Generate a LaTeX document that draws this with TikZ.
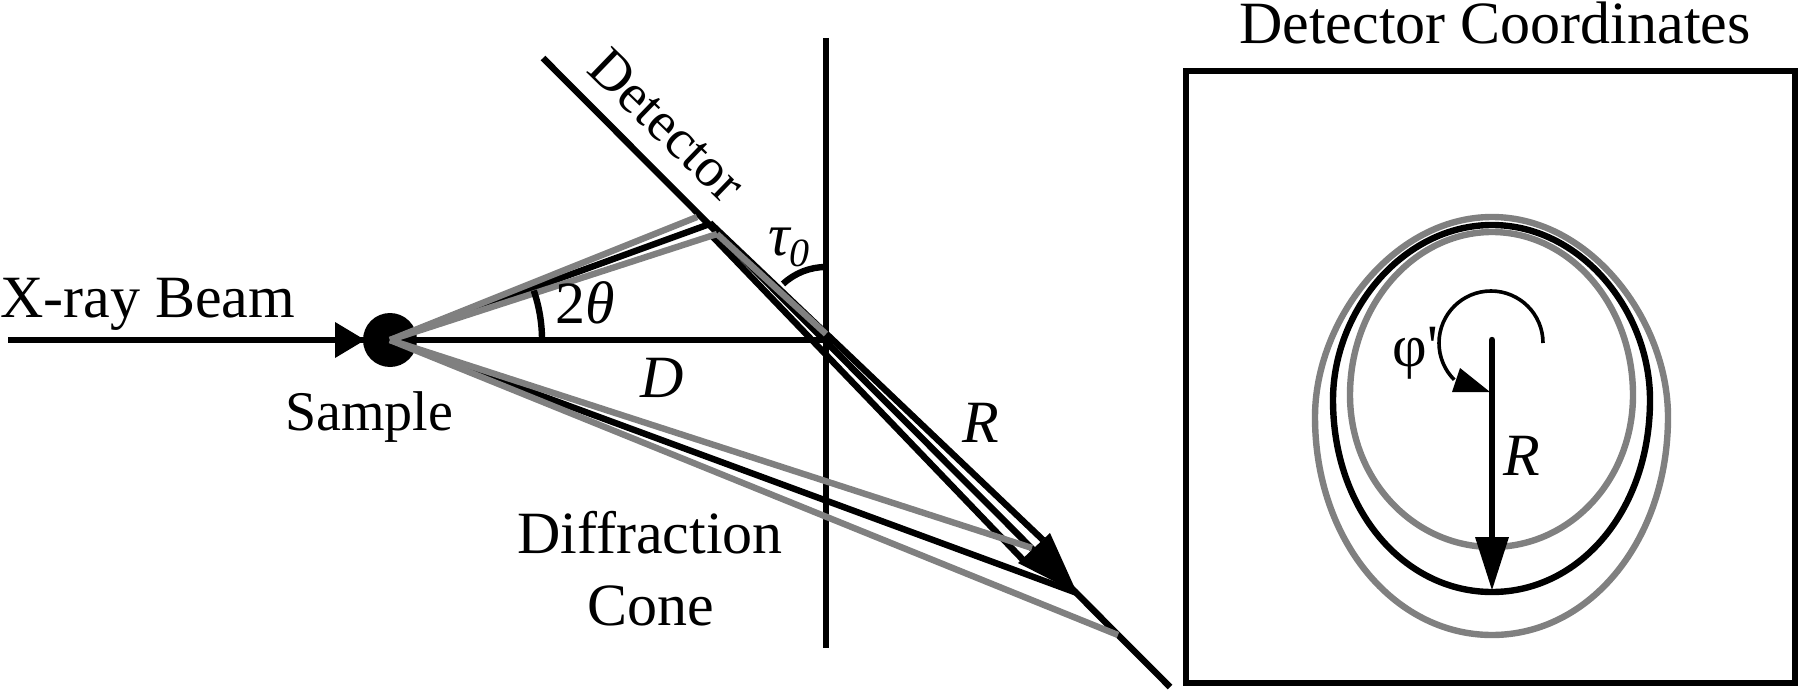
\documentclass[tikz,border=0pt]{standalone}
\usepackage{fontspec}
\setmainfont{Liberation Serif}
\definecolor{gr}{gray}{0.5}
\tikzset{
  blk/.style={line width=3.2pt,black},
  gry/.style={line width=3.2pt,gr},
  lab/.style={inner sep=0pt,font=\fontsize{30}{36}\selectfont},
  labs/.style={inner sep=0pt,font=\fontsize{28}{34}\selectfont},
}
\begin{document}
\begin{tikzpicture}[x=0.5pt,y=-0.5pt]
\useasboundingbox (0,0) rectangle (1800,690);
\coordinate (S) at (390,340);
\coordinate (bs) at (8,340);
\coordinate (V1) at (826,38);
\coordinate (V2) at (826,648);
\coordinate (C) at (826,340);
\coordinate (Cg) at (826,334);
\coordinate (D1) at (543,58);
\coordinate (D2) at (1170,687);
\coordinate (U) at (707,225);
\coordinate (Ug) at (697,217);
\coordinate (Lg) at (717,234);
\coordinate (Ru) at (710,223);
\coordinate (Rl) at (713,237);
\coordinate (T) at (1077,593);
\coordinate (Ru2) at (1043,540);
\coordinate (Rl2) at (1026,563);
\coordinate (Tu) at (1032,548);
\coordinate (Tl) at (1118,635);
% lines
\draw[blk] (V1)--(V2);
\draw[blk] (D1)--(D2);
\draw[blk] (Ru)--(Ru2);
\draw[blk] (Rl)--(Rl2);
\draw[gry] (Lg)--(Cg);
\draw[blk] (bs)--(S);
\fill (S) circle[radius=13.5pt];
\draw[blk] (S)--(C);
\draw[blk] (S)--(U);
\draw[blk] (S)--(T);
% arrow heads
\fill (T)--(1050,533)--(1018,563)--cycle;
\fill (365,340)--(335,322)--(335,358)--cycle;
\draw[gry] (S)--(Ug);
\draw[gry] (S)--(Lg);
\draw[gry] (S)--(Tu);
\draw[gry] (S)--(Tl);
% arcs
\draw[blk] (542,340) arc[start angle=0,end angle=19,radius=76pt];
\draw[blk] (826,267) arc[start angle=90,end angle=133,radius=31.5pt];
% right panel
\draw[line width=3.2pt] (1186,71) rectangle (1795,683);
\draw[gry] (1492,232) .. controls (1570,232) and (1633,305) .. (1633,395) .. controls (1633,480) and (1570,547) .. (1492,547) .. controls (1414,547) and (1350,480) .. (1350,395) .. controls (1350,305) and (1414,232) .. (1492,232) -- cycle;
\draw[gry] (1492,217) .. controls (1590,217) and (1668,320) .. (1668,417) .. controls (1668,540) and (1590,635) .. (1492,635) .. controls (1394,635) and (1315,540) .. (1315,417) .. controls (1315,320) and (1394,217) .. (1492,217) -- cycle;
\draw[blk] (1492,225) .. controls (1580,225) and (1650,310) .. (1650,400) .. controls (1650,510) and (1580,592) .. (1492,592) .. controls (1404,592) and (1333,510) .. (1333,400) .. controls (1333,310) and (1404,225) .. (1492,225) -- cycle;
\coordinate (Rs) at (1492,340);
\coordinate (Rt) at (1492,590);
\draw[blk,line cap=round] (Rs)--(1492,540);
\fill (Rt)--(1475,537)--(1509,537)--cycle;
\draw[line width=1.8pt] (1543,343) arc[start angle=0,end angle=225,radius=26pt];
\fill (1490,392)--(1452,392)--(1460,368)--cycle;
% labels
\node[lab,anchor=base west] (t1) at (0,317) {X-ray Beam};
\node[labs,anchor=base] (t2) at (369,430) {Sample};
\node[lab,anchor=base] (t3) at (650,553) {Diffraction};
\node[lab,anchor=base] (t4) at (651,625) {Cone};
\node[lab,anchor=base] (t5) at (1495,44) {Detector Coordinates};
\node[labs,anchor=center,rotate=-44] (t6) at (667,125) {Detector};
\node[lab,anchor=base west] (t7) at (555,323) {2\textit{θ}};
\node[lab,anchor=base west] (t8) at (640,397) {\textit{D}};
\node[lab,anchor=base west] (t9) at (962,442) {\textit{R}};
\node[lab,anchor=base west] (t10) at (1503,475) {\textit{R}};
\node[lab,anchor=base west] (t11) at (768,255) {\textit{τ\raisebox{-0.2em}{\fontsize{20}{24}\selectfont 0}}};
\node[lab,anchor=base west] (t12) at (1392,366) {φ\textquotesingle};
\end{tikzpicture}
\end{document}
